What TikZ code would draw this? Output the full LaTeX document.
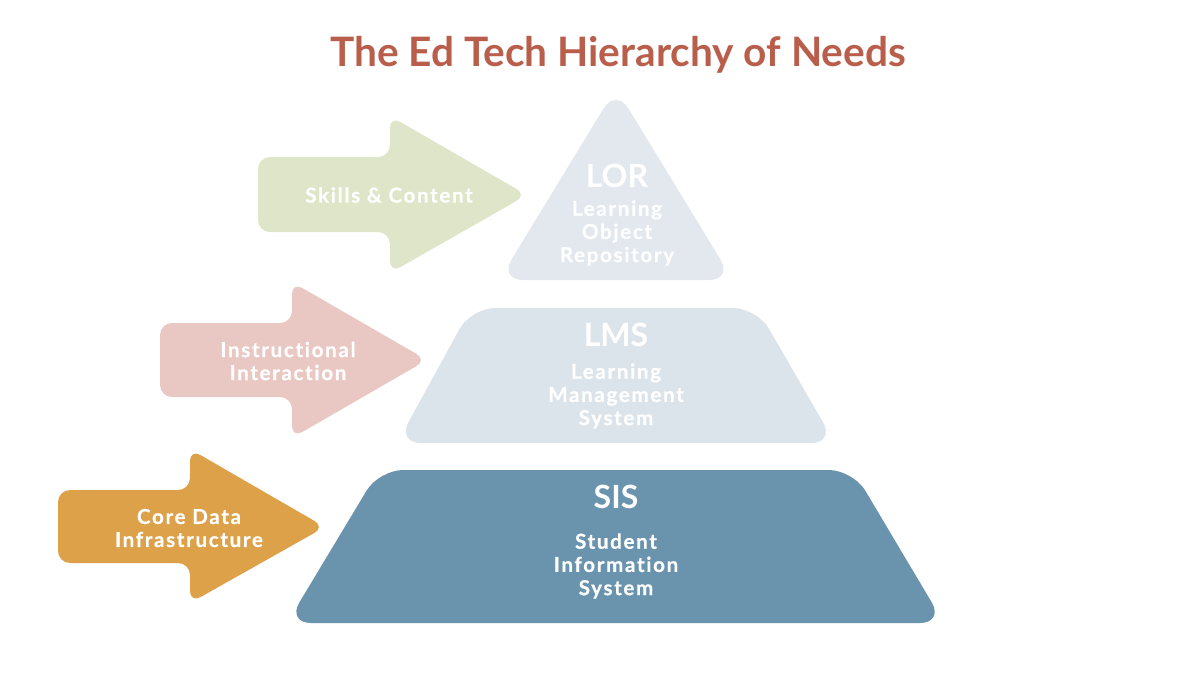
\documentclass[tikz,border=0pt]{standalone}
\usepackage{fontspec}
\setmainfont{Lato}[Ligatures=NoCommon]
\newfontfamily\spacedfont{Lato}[LetterSpace=8, Ligatures=NoCommon, BoldFeatures={FakeBold=0.5}]
\definecolor{titlered}{HTML}{BA5E4C}
\definecolor{coreorange}{HTML}{DDA14A}
\definecolor{instrpink}{HTML}{E9C8C3}
\definecolor{skillgreen}{HTML}{DFE5C8}
\definecolor{sisblue}{HTML}{6A93AE}
\definecolor{lmsblue}{HTML}{DCE4EB}
\definecolor{lorblue}{HTML}{E3E8EF}

\begin{document}
\begin{tikzpicture}[x=0.5pt, y=-0.5pt,
    tier/.style={rounded corners=12pt},
    pointer/.style={rounded corners=6pt},
    tiername/.style={text=white, font=\bfseries\fontsize{16}{18}\selectfont},
    tierlong/.style={text=white, align=center, font=\spacedfont\bfseries\fontsize{10.3}{11.6}\selectfont},
    pointertext/.style={text=white, align=center, font=\spacedfont\bfseries\fontsize{10.3}{11.5}\selectfont}]
  \useasboundingbox (0,0) rectangle (1200,682);
  \node [text=titlered, font=\bfseries\fontsize{20.3}{24}\selectfont] (title) at (618,55) {The Ed Tech Hierarchy of Needs};
  % pyramid, top to bottom
  \fill [tier, lorblue] (616,88) -- (733,280) -- (499,280) -- cycle;
  \fill [tier, lmsblue] (471,308) -- (757,308) -- (835,443) -- (397,443) -- cycle;
  \fill [tier, sisblue] (379,470) -- (853,470) -- (944,623) -- (287,623) -- cycle;
  \node [tiername] (lor) at (617,176) {LOR};
  \node [tierlong] (lorlong) at (617,233) {Learning\\Object\\Repository};
  \node [tiername] (lms) at (616,335) {LMS};
  \node [tierlong] (lmslong) at (616,396) {Learning\\Management\\System};
  \node [tiername] (sis) at (616,497) {SIS};
  \node [tierlong] (sislong) at (616,566) {Student\\Information\\System};
  % arrows pointing at the tiers
  \fill [pointer, skillgreen] (258,157) -- (390,157) -- (390,116) -- (527,195) -- (390,273) -- (390,232) -- (258,232) -- cycle;
  \fill [pointer, instrpink] (160,323) -- (292,323) -- (292,282) -- (427,360) -- (292,438) -- (292,397) -- (160,397) -- cycle;
  \fill [pointer, coreorange] (58,490) -- (190,490) -- (190,449) -- (325,527) -- (190,603) -- (190,563) -- (58,563) -- cycle;
  \node [pointertext] (skills) at (389,195) {Skills \& Content};
  \node [pointertext] (instr) at (288,361) {Instructional\\Interaction};
  \node [pointertext] (core) at (189,528) {Core Data\\Infrastructure};
\end{tikzpicture}
\end{document}
